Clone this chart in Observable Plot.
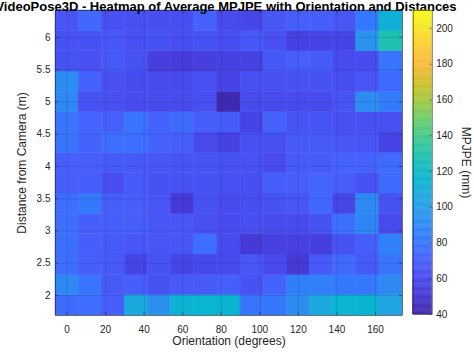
<!DOCTYPE html>
<html><head><meta charset="utf-8">
<script src="https://cdn.jsdelivr.net/npm/d3@7"></script>
<script src="https://cdn.jsdelivr.net/npm/@observablehq/plot@0.6"></script>
<style>
body{margin:0;background:#fff;}
#wrap{position:relative;width:474px;height:354px;overflow:hidden;background:#fff;}
#wrap svg{position:absolute;top:0;}
</style></head><body><div id="wrap"></div>
<script>
// Orientation bin centres (degrees) and distance bin centres (m)
const orientations = [0, 12, 24, 36, 48, 60, 72, 84, 96, 108, 120, 132, 144, 156, 168];
const distances = [1.848, 2.163, 2.478, 2.793, 3.108, 3.423, 3.738, 4.053, 4.368, 4.683, 4.998, 5.313, 5.628, 5.943, 6.258];
// Average MPJPE (mm), one row per distance (ascending), one column per orientation
const mpjpe = [
  [76, 77, 70, 108, 94, 114, 116, 115, 80, 82, 92, 107, 116, 115, 104],
  [90, 80, 68, 70, 64, 68, 68, 71, 64, 72, 84, 85, 82, 82, 90],
  [77, 70, 68, 57, 64, 57, 59, 60, 66, 60, 52, 68, 75, 68, 80],
  [78, 70, 68, 66, 66, 66, 77, 61, 52, 55, 55, 54, 64, 70, 86],
  [77, 70, 70, 70, 66, 66, 63, 61, 62, 60, 60, 64, 78, 88, 60],
  [77, 82, 70, 70, 66, 52, 64, 61, 62, 64, 66, 74, 58, 90, 64],
  [70, 70, 62, 68, 64, 64, 64, 63, 62, 70, 70, 73, 70, 64, 76],
  [70, 70, 68, 68, 66, 65, 65, 64, 64, 60, 68, 68, 72, 72, 76],
  [80, 72, 77, 77, 72, 70, 60, 56, 63, 63, 68, 68, 66, 66, 57],
  [80, 73, 71, 80, 72, 76, 70, 69, 57, 72, 65, 65, 63, 63, 63],
  [90, 64, 63, 61, 60, 60, 63, 42, 60, 60, 60, 60, 65, 92, 83],
  [92, 72, 63, 61, 60, 60, 63, 57, 63, 63, 64, 64, 62, 66, 76],
  [64, 63, 68, 64, 54, 53, 54, 56, 56, 67, 70, 69, 60, 61, 80],
  [64, 64, 67, 63, 64, 62, 64, 62, 67, 63, 55, 57, 57, 95, 128],
  [66, 74, 63, 63, 62, 62, 72, 60, 58, 66, 70, 70, 66, 82, 112]
];
const xTicks = [0, 20, 40, 60, 80, 100, 120, 140, 160];
const yTicks = [2, 2.5, 3, 3.5, 4, 4.5, 5, 5.5, 6];
const cTicks = [40, 60, 80, 100, 120, 140, 160, 180, 200];
const cDomain = [40, 210];
const titleText = "VideoPose3D - Heatmap of Average MPJPE with Orientation and Distances";
const xLabel = "Orientation (degrees)";
const yLabel = "Distance from Camera (m)";
const cLabel = "MPJPE (mm)";

// parula colormap stops
const parulaStops = ["#3e26a8","#4537d5","#484df0","#4563fd","#327cfc","#2b91ef","#20a5e3","#08b5d0","#19bfb6","#37c897","#64cd6f","#9dc943","#d1bf27","#f8ba3d","#fccf30","#f5e924","#f9fb15"];
const parulaIdx = [0,4,8,12,16,20,24,28,32,36,40,44,48,52,56,60,63];
const parulaScale = d3.scaleLinear().domain(parulaIdx.map(i => i / 63)).range(parulaStops).interpolate(d3.interpolateRgb).clamp(true);
const parula = t => parulaScale(t);

const hw = (orientations[1] - orientations[0]) / 2;
const hh = (distances[1] - distances[0]) / 2;
const cells = [];
distances.forEach((d, r) => orientations.forEach((o, c) => cells.push({o, d, v: mpjpe[r][c]})));

const font = "Liberation Sans, Arial, Helvetica, sans-serif";
const ink = "#262626";
const colorOpt = {type: "linear", domain: cDomain, interpolate: parula, clamp: true};

const main = Plot.plot({
  width: 474, height: 354,
  marginLeft: 55, marginRight: 72, marginTop: 10, marginBottom: 39,
  style: {fontFamily: font, fontSize: "10px", color: ink, background: "transparent", overflow: "visible"},
  x: {domain: [orientations[0] - hw, orientations[orientations.length - 1] + hw], axis: null},
  y: {domain: [distances[0] - hh, distances[distances.length - 1] + hh], axis: null},
  color: colorOpt,
  marks: [
    Plot.rect(cells, {x1: d => d.o - hw, x2: d => d.o + hw, y1: d => d.d - hh, y2: d => d.d + hh, fill: "v", stroke: "v", strokeWidth: 0.5}),
    Plot.gridX(xTicks, {stroke: ink, strokeOpacity: 0.15}),
    Plot.gridY(yTicks, {stroke: ink, strokeOpacity: 0.15}),
    Plot.tickX(xTicks, {x: d => d, insetTop: 302, stroke: ink, strokeWidth: 0.6}),
    Plot.tickX(xTicks, {x: d => d, insetBottom: 302, stroke: ink, strokeWidth: 0.6}),
    Plot.tickY(yTicks, {y: d => d, insetRight: 344, stroke: ink, strokeWidth: 0.6}),
    Plot.tickY(yTicks, {y: d => d, insetLeft: 344, stroke: ink, strokeWidth: 0.6}),
    Plot.frame({stroke: ink, strokeWidth: 0.6}),
    Plot.axisX(xTicks, {anchor: "bottom", tickSize: 0, tickPadding: 10, label: null, tickFormat: d => String(d)}),
    Plot.axisY(yTicks, {anchor: "left", tickSize: 0, tickPadding: 5, label: null, tickFormat: d => String(d)}),
    Plot.text([titleText], {frameAnchor: "top", textAnchor: "middle", lineAnchor: "bottom", dx: -3, dy: 0, fontWeight: "bold", fontSize: 13, fill: "#000"}),
    Plot.text([xLabel], {frameAnchor: "bottom", textAnchor: "middle", lineAnchor: "top", dy: 21, fontSize: 12, fill: ink}),
    Plot.text([yLabel], {frameAnchor: "left", textAnchor: "middle", rotate: -90, dx: -33, fontSize: 12, fill: ink})
  ]
});
main.style.left = "0px";

const ramp = d3.range(cDomain[0], cDomain[1], 0.5);
const bar = Plot.plot({
  width: 94, height: 354,
  marginLeft: 32.7, marginRight: 42.3, marginTop: 10, marginBottom: 40,
  style: {fontFamily: font, fontSize: "10px", color: ink, background: "transparent", overflow: "visible"},
  x: {domain: [0, 1], axis: null},
  y: {domain: cDomain, axis: null},
  color: colorOpt,
  marks: [
    Plot.rect(ramp, {x1: 0, x2: 1, y1: d => d, y2: d => d + 0.5, fill: d => d + 0.25, stroke: d => d + 0.25, strokeWidth: 0.4}),
    Plot.tickY(cTicks, {y: d => d, insetLeft: 17, stroke: ink, strokeWidth: 0.6}),
    Plot.frame({stroke: ink, strokeWidth: 0.6}),
    Plot.axisY(cTicks, {anchor: "right", tickSize: 0, tickPadding: 4, label: null, tickFormat: d => String(d)}),
    Plot.text([cLabel], {frameAnchor: "right", textAnchor: "middle", rotate: 90, dx: 34, fontSize: 12, fill: ink})
  ]
});
bar.style.left = "380px";

const wrap = document.getElementById("wrap");
wrap.appendChild(main);
wrap.appendChild(bar);
</script>
</body></html>
